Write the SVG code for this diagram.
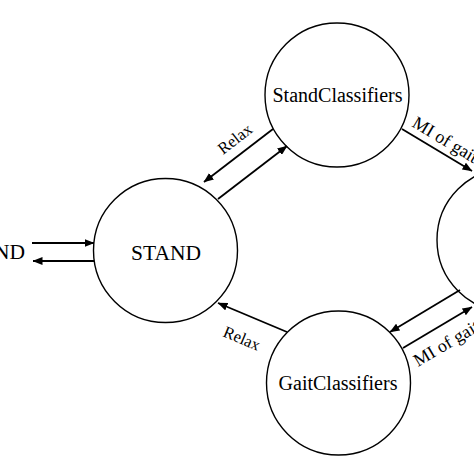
<svg xmlns="http://www.w3.org/2000/svg" width="474" height="474" viewBox="0 0 474 474">
<style>
.node{fill:#fff;stroke:#000;stroke-width:1.4}
.lbl{font-family:"Liberation Serif","Times New Roman",serif;fill:#000;text-anchor:middle}
.edge{stroke:#000;stroke-width:1.8;fill:none;marker-end:url(#ah)}
.el{font-family:"Liberation Serif","Times New Roman",serif;font-size:16.5px;fill:#000}
.mi{font-size:18px}
</style>
<defs>
<marker id="ah" viewBox="0 0 10 8" refX="9.5" refY="4" markerWidth="10" markerHeight="8" markerUnits="userSpaceOnUse" orient="auto">
<path d="M0,0 L10,4 L0,8 z" fill="#000"/>
</marker>
</defs>
<rect width="474" height="474" fill="#fff"/>
<g id="left-node">
<text class="lbl" x="25" y="259" font-size="21.5" style="text-anchor:end">ND</text>
</g>
<g id="stand">
<circle class="node" cx="165.5" cy="250.5" r="72"/>
<text class="lbl" x="166" y="260" font-size="21.5">STAND</text>
</g>
<g id="standclassifiers">
<circle class="node" cx="337" cy="95" r="72"/>
<text class="lbl" x="337.5" y="102" font-size="20">StandClassifiers</text>
</g>
<g id="gaitclassifiers">
<circle class="node" cx="338.5" cy="383" r="72"/>
<text class="lbl" x="338" y="390" font-size="20">GaitClassifiers</text>
</g>
<g id="right-node">
<circle class="node" cx="509" cy="240" r="72"/>
</g>
<g id="connectors">
<line class="edge" x1="32" y1="243" x2="94" y2="243"/>
<line class="edge" x1="94" y1="261" x2="33" y2="261"/>
<line class="edge" x1="273" y1="129" x2="204" y2="182"/>
<line class="edge" x1="218" y1="199" x2="287" y2="146"/>
<line class="edge" x1="402" y1="129" x2="472" y2="171"/>
<line class="edge" x1="460" y1="290" x2="390" y2="332"/>
<line class="edge" x1="403" y1="348" x2="472" y2="307"/>
<line class="edge" x1="287" y1="332" x2="218" y2="303"/>
<text class="el" transform="translate(223,155) rotate(-37.5)">Relax</text>
<text class="el" transform="translate(222,336) rotate(22.8)">Relax</text>
<text class="el mi" transform="translate(411,126) rotate(31)">MI of gait</text>
<text class="el mi" transform="translate(418,367) rotate(-30.7)">MI of gait</text>
</g>
</svg>
